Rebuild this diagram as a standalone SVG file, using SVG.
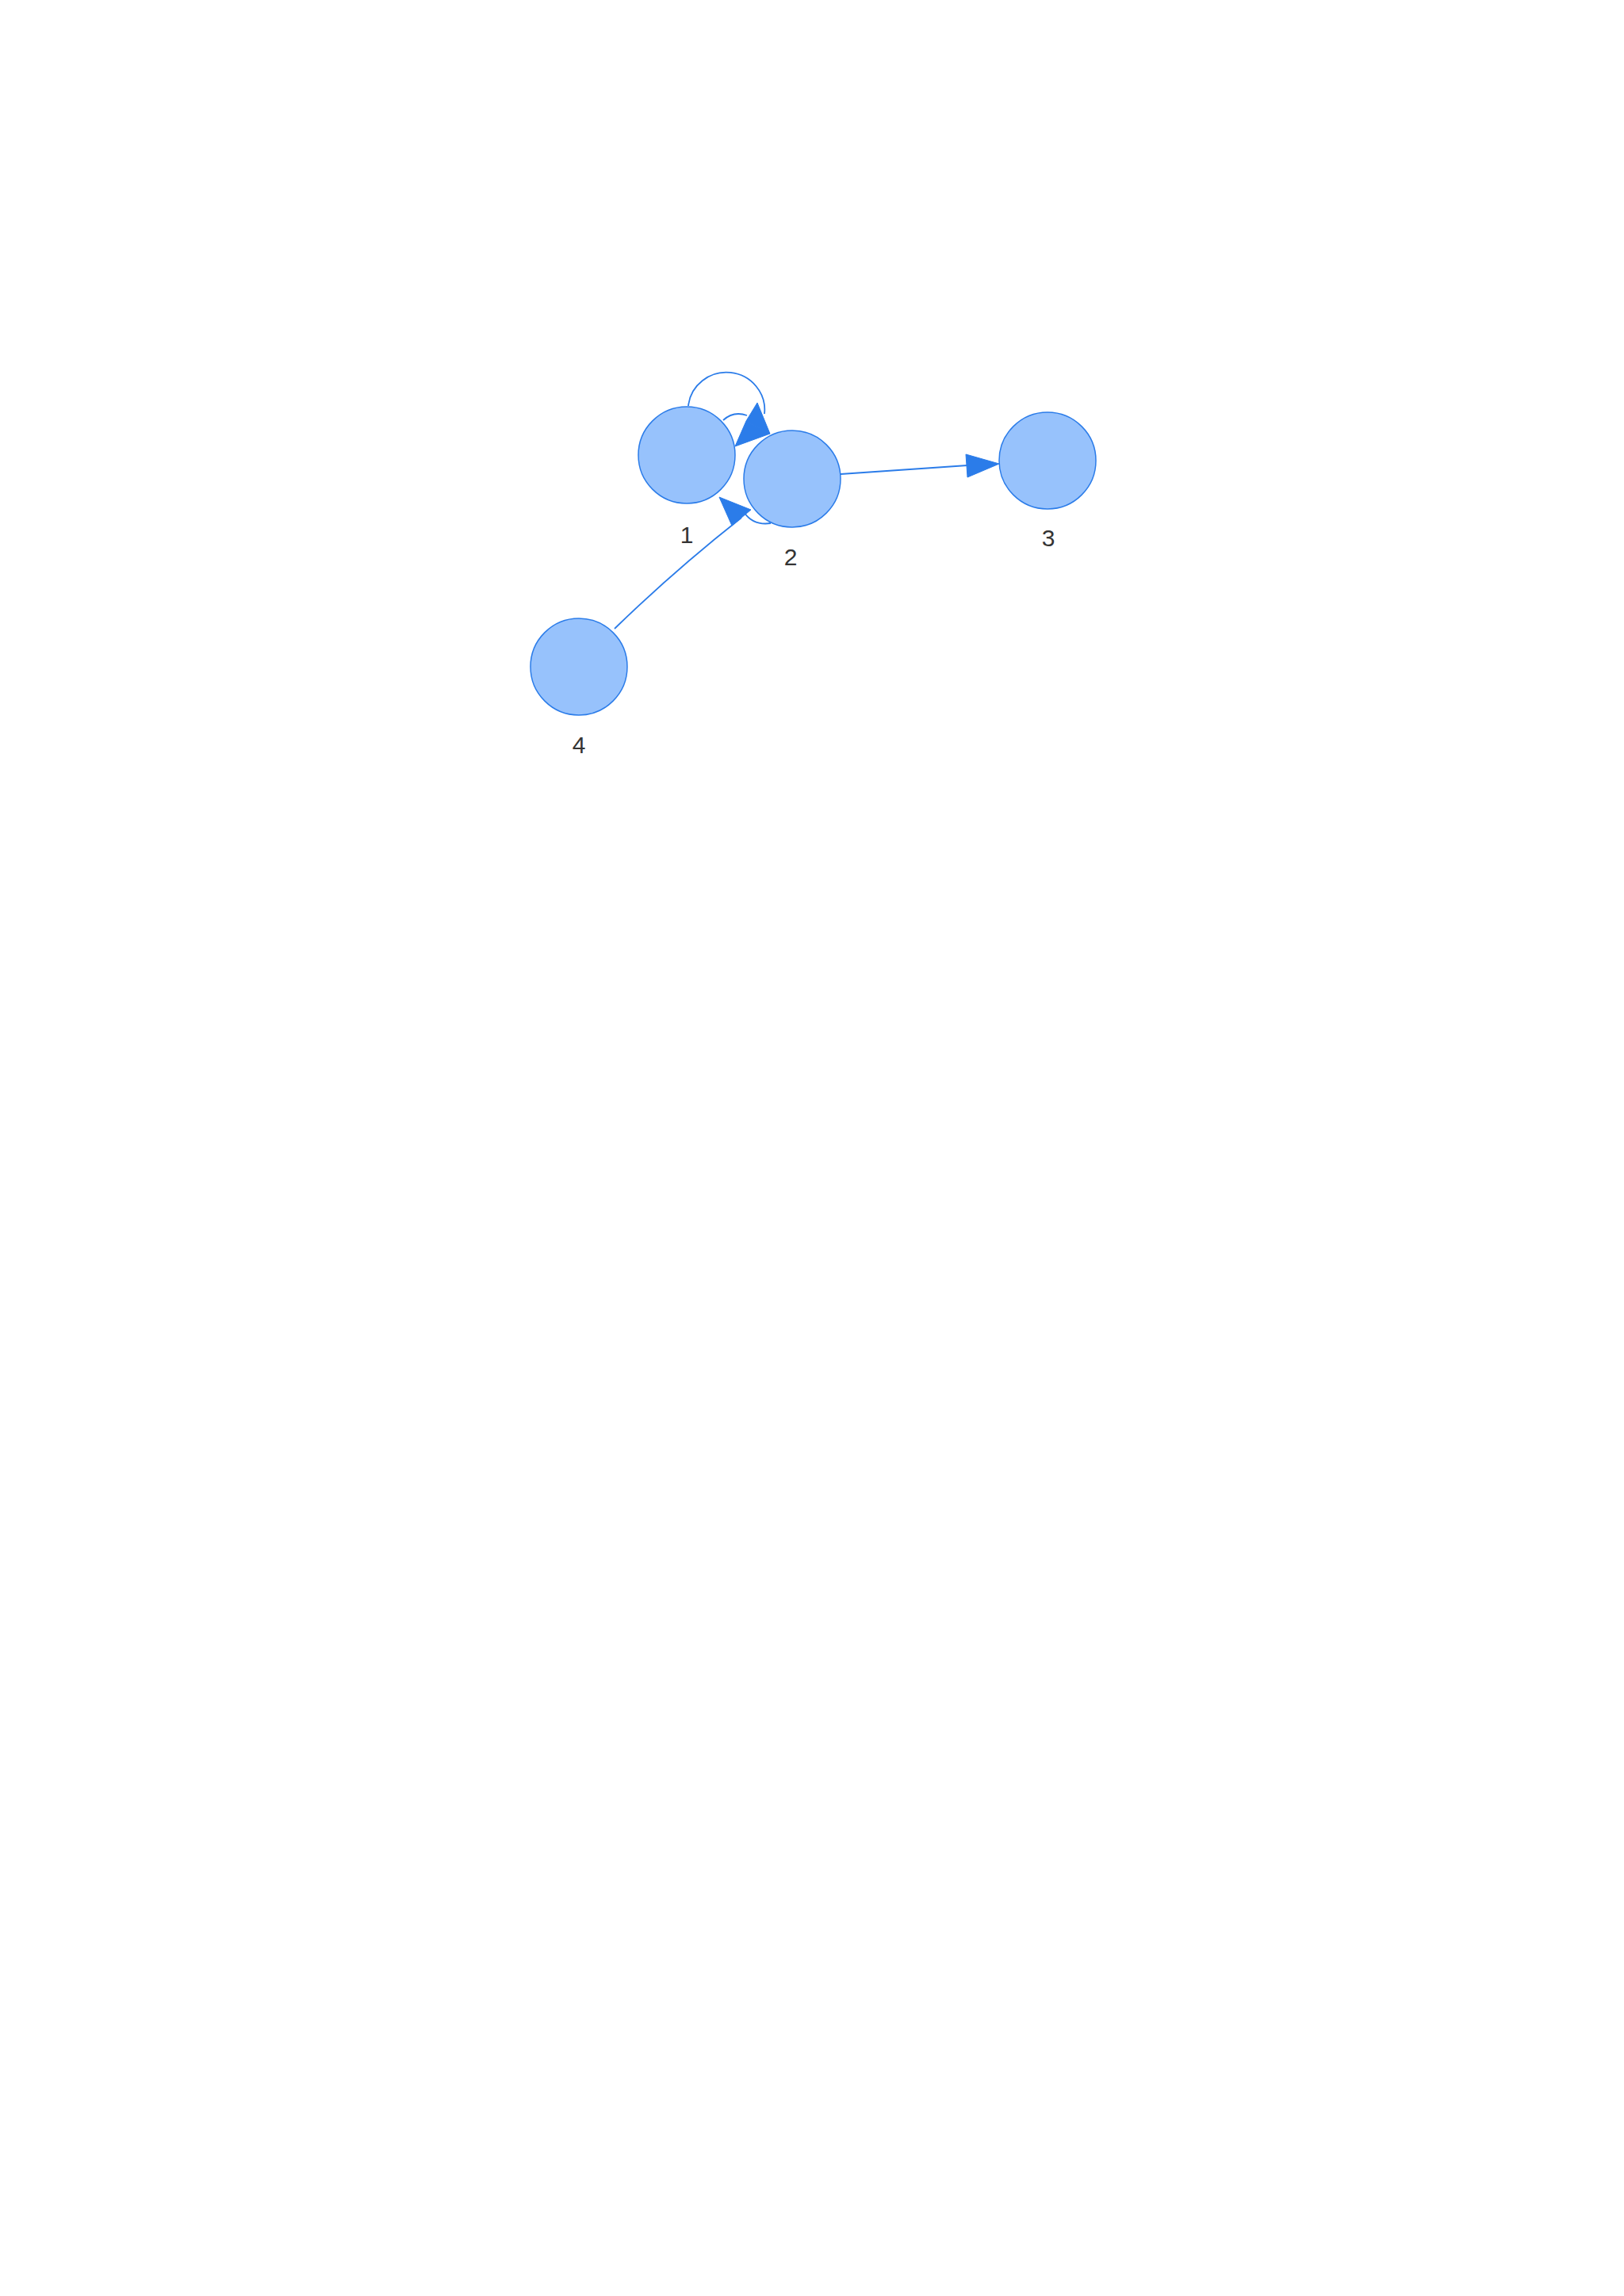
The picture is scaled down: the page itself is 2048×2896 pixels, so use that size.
<svg xmlns="http://www.w3.org/2000/svg" width="2048" height="2896" viewBox="0 0 2048 2896">
<style>
.node{fill:#97C2FC;stroke:#2B7CE9;stroke-width:1.5}
.edge{fill:none;stroke:#2B7CE9;stroke-width:1.8}
.head{fill:#2B7CE9;stroke:#2B7CE9;stroke-width:1}
.lbl{font-family:"Liberation Sans",Arial,sans-serif;font-size:30px;fill:#343434;text-anchor:middle}
</style>
<rect width="2048" height="2896" fill="#ffffff"/>
<g id="connectors">
  <path class="edge" d="M868,512 A48,47 0 1,1 964,522"/>
  <polygon class="head" points="955,508 971,547 941,531"/>
  <path class="edge" d="M912,530 Q925,518 942,524"/>
  <polygon class="head" points="941,531 971,547 927,563"/>
  <path class="edge" d="M972,660 Q950,663 939,647"/>
  <path class="edge" d="M775,793 Q850,720 935,653"/>
  <polygon class="head" points="907,627 947,643 923,663"/>
  <path class="edge" d="M1060,598 L1220,587"/>
  <polygon class="head" points="1260,585 1218,573 1220,602"/>
</g>
<g id="node1">
  <circle class="node" cx="866" cy="574" r="61"/>
  <text class="lbl" x="866" y="685">1</text>
</g>
<g id="node2">
  <circle class="node" cx="999" cy="604" r="61"/>
  <text class="lbl" x="997" y="713">2</text>
</g>
<g id="node3">
  <circle class="node" cx="1321" cy="581" r="61"/>
  <text class="lbl" x="1322" y="689">3</text>
</g>
<g id="node4">
  <circle class="node" cx="730" cy="841" r="61"/>
  <text class="lbl" x="730" y="950">4</text>
</g>
</svg>
